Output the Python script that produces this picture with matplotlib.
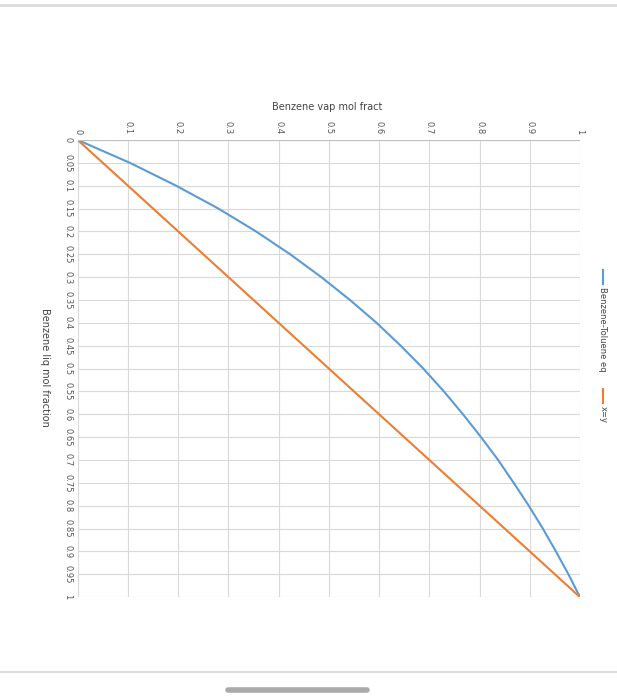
import numpy as np
import matplotlib.pyplot as plt
from matplotlib.lines import Line2D

# liquid mole fraction (chart x) and equilibrium vapour fraction (chart y)
liq = [0, 0.05, 0.1, 0.15, 0.2, 0.25, 0.3, 0.35, 0.4, 0.45, 0.5,
       0.55, 0.6, 0.65, 0.7, 0.75, 0.8, 0.85, 0.9, 0.95, 1]
vap_eq = [0, 0.104, 0.196, 0.280, 0.355, 0.423, 0.485, 0.542, 0.595, 0.643, 0.688,
          0.729, 0.767, 0.803, 0.837, 0.868, 0.898, 0.926, 0.952, 0.977, 1]
diag = [0, 1]

x_ticks = [round(0.05 * i, 2) for i in range(21)]
y_ticks = [round(0.1 * i, 1) for i in range(11)]

blue = '#5b9bd5'
orange = '#ed7d31'

fig = plt.figure(figsize=(6.17, 7.0), dpi=100)
ax = fig.add_axes([0.126, 0.147, 0.814, 0.653])

# chart is shown rotated 90 degrees: vapour fraction runs left->right, liquid top->bottom
ax.plot(vap_eq, liq, color=blue, lw=1.5)
ax.plot(diag, diag, color=orange, lw=1.5)
ax.set_xlim(0, 1)
ax.set_ylim(1, 0)
ax.set_xticks(y_ticks)
ax.set_yticks(x_ticks)
ax.xaxis.tick_top()
ax.set_xticklabels([f'{v:g}' for v in y_ticks], rotation=-90, fontsize=6, color='#555555')
ax.set_yticklabels([f'{v:g}' for v in x_ticks], rotation=-90, fontsize=6, color='#555555',
                   va='center')
ax.tick_params(length=0, pad=4)
ax.grid(color='#d9d9d9', lw=0.8)
for s in ax.spines.values():
    s.set_visible(False)
ax.axhline(0, color='#bfbfbf', lw=0.8)

fig.text(0.53, 0.847, 'Benzene vap mol fract', fontsize=7, color='#444444', ha='center', va='center')
fig.text(0.073, 0.475, 'Benzene liq mol fraction', fontsize=7, color='#444444',
         rotation=-90, ha='center', va='center')

# rotated legend
fig.add_artist(Line2D([0.977, 0.977], [0.615, 0.595], color=blue, lw=1.5))
fig.text(0.977, 0.59, 'Benzene-Toluene eq', fontsize=6, color='#444444', rotation=-90,
         ha='center', va='top')
fig.add_artist(Line2D([0.977, 0.977], [0.445, 0.425], color=orange, lw=1.5))
fig.text(0.977, 0.42, 'x=y', fontsize=6, color='#444444', rotation=-90, ha='center', va='top')

# screenshot frame
fig.add_artist(Line2D([0, 1], [0.993, 0.993], color='#dddddd', lw=2))
fig.add_artist(Line2D([0, 1], [0.04, 0.04], color='#dddddd', lw=1.5))
fig.add_artist(Line2D([0.37, 0.595], [0.014, 0.014], color='#aaaaaa', lw=4, solid_capstyle='round'))

fig.savefig('out.png', dpi=100)
